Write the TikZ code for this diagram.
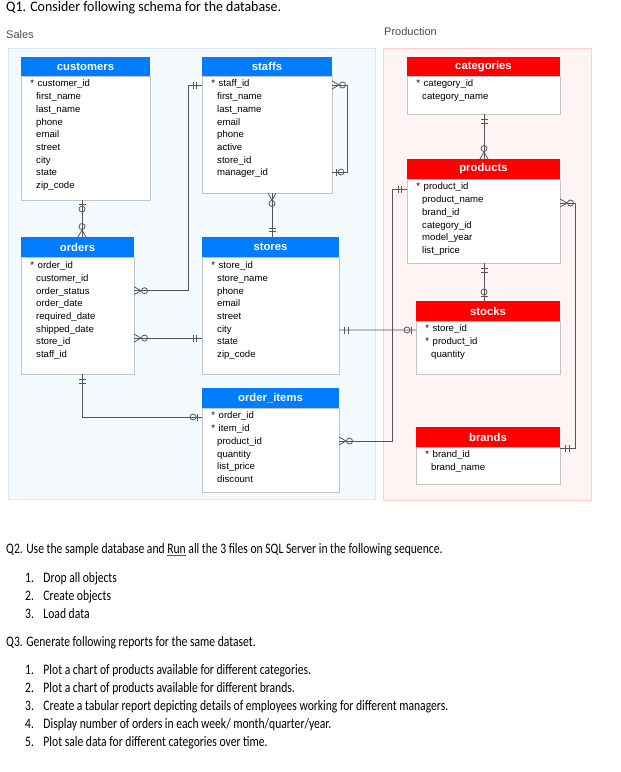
\documentclass[tikz,border=0pt]{standalone}
\usepackage{fontspec}
\setmainfont{Liberation Sans}
\newfontfamily\docfont[FakeStretch=0.80]{Carlito}
\newfontfamily\titlefont[FakeStretch=0.96]{Carlito}
\usetikzlibrary{positioning,calc}
\definecolor{hdblue}{RGB}{0,125,255}
\definecolor{hdred}{RGB}{255,0,0}
\definecolor{salesfill}{RGB}{245,250,255}
\definecolor{salesline}{RGB}{216,232,252}
\definecolor{prodfill}{RGB}{255,244,244}
\definecolor{prodline}{RGB}{255,206,206}
\definecolor{boxgray}{RGB}{196,196,196}
\definecolor{relgray}{RGB}{85,85,85}
\definecolor{linkblue}{RGB}{40,90,210}
\newcommand{\pk}{\makebox[0pt][r]{*\hspace{2.2pt}}\hspace{1.5pt}}
\newcommand{\linkword}[1]{\setbox0\hbox{#1}\rlap{\color{linkblue}\rule[-3pt]{\wd0}{0.9pt}}#1}
% table: name, corner, width, header options, title, body height, rows
\newcommand{\ertable}[7]{%
  \node[tblhead,#4,minimum width=#3] (#1-h) at (#2) {#5};
  \node[tblbody,minimum width=#3,minimum height=#6,below=0pt of #1-h] (#1) {};
  \node[tblrows] (#1-r) at ([xshift=15pt,yshift=-3.8pt]#1.north west) {#7};
}
\tikzset{
  tblhead/.style={anchor=north west,minimum height=20pt,inner sep=0,outer sep=0,
    text=white,font=\bfseries\fontsize{11.3}{13}\selectfont},
  tblbody/.style={draw=boxgray,fill=white,line width=0.7pt,inner sep=0,outer sep=0},
  tblrows/.style={anchor=north west,inner sep=0,align=left,font=\fontsize{9.6}{12.7}\selectfont},
  rel/.style={draw=relgray,line width=0.8pt},
  grplabel/.style={anchor=base west,inner sep=0,text=black!70,font=\fontsize{11}{13}\selectfont},
  doc/.style={anchor=base west,inner sep=0,font=\docfont\fontsize{14.5}{17}\selectfont},
  erone/.pic={\draw[rel] (5.5,-3.5) -- (5.5,3.5) (9,-3.5) -- (9,3.5);},
  erzeroone/.pic={\draw[rel] (4.5,-3.5) -- (4.5,3.5); \draw[rel] (9,0) circle (3pt);},
  ermany/.pic={\draw[rel] (0,-4) -- (7,0) -- (0,4); \draw[rel] (10.5,0) circle (3pt);},
}

\begin{document}
\begin{tikzpicture}[x=1pt,y=-1pt]
  \useasboundingbox (0,0) rectangle (621,772);
  % schema areas
  \draw[fill=salesfill,draw=salesline,line width=1pt] (8,48) rectangle (375,499);
  \draw[fill=prodfill,draw=prodline,line width=1pt] (383,48) rectangle (591,500);
  \node[grplabel] (sales-l) at (6,38.3) {Sales};
  \node[grplabel] (prod-l) at (384,35) {Production};

  % sales tables
  \ertable{customers}{21,57}{129pt}{fill=hdblue,minimum height=19pt}{customers}{124pt}{\pk customer\_id\\first\_name\\last\_name\\phone\\email\\street\\city\\state\\zip\_code}
  \ertable{staffs}{202,57}{130pt}{fill=hdblue,minimum height=19pt}{staffs}{117pt}{\pk staff\_id\\first\_name\\last\_name\\email\\phone\\active\\store\_id\\manager\_id}
  \ertable{orders}{21,237}{113pt}{fill=hdblue,minimum height=20.7pt}{orders}{116.3pt}{\pk order\_id\\customer\_id\\order\_status\\order\_date\\required\_date\\shipped\_date\\store\_id\\staff\_id}
  \ertable{stores}{202,237}{137pt}{fill=hdblue,minimum height=20.7pt}{stores}{116.3pt}{\pk store\_id\\store\_name\\phone\\email\\street\\city\\state\\zip\_code}
  \ertable{items}{202,388}{137pt}{fill=hdblue}{order\_items}{84pt}{\pk order\_id\\\pk item\_id\\product\_id\\quantity\\list\_price\\discount}
  % production tables
  \ertable{categories}{407,57}{153pt}{fill=hdred,minimum height=19pt}{categories}{38pt}{\pk category\_id\\category\_name}
  \ertable{products}{407,159}{153pt}{fill=hdred}{products}{84pt}{\pk product\_id\\product\_name\\brand\_id\\category\_id\\model\_year\\list\_price}
  \ertable{stocks}{416,301}{144pt}{fill=hdred}{stocks}{53pt}{\pk store\_id\\\pk product\_id\\quantity}
  \ertable{brands}{416,427}{144pt}{fill=hdred}{brands}{37pt}{\pk brand\_id\\brand\_name}

  % relationships
  \draw[rel] ([xshift=61pt]customers.south west) pic[rotate=-90]{erzeroone}
    -- ([xshift=61pt]orders-h.north west) pic[rotate=90]{ermany};
  \draw[rel] ([yshift=-9pt]staffs.north east) pic{ermany} -- ++(15,0)
    |- ([yshift=21pt]staffs.south east) pic{erzeroone};
  \draw[rel] ([xshift=70pt]staffs.south west) pic[rotate=-90]{ermany}
    -- ([xshift=70pt]stores-h.north west) pic[rotate=90]{erone};
  \draw[rel] ([yshift=-9.5pt]staffs.north west) pic[rotate=180]{erone} -- ++(-14,0)
    |- ([yshift=-33pt]orders.north east) pic{ermany};
  \draw[rel] ([yshift=36pt]orders.south east) pic{ermany}
    -- ([yshift=36pt]stores.south west) pic[rotate=180]{erone};
  \draw[rel] ([xshift=61pt]orders.south west) pic[rotate=-90]{erone}
    |- ([yshift=-9pt]items.north west) pic[rotate=180]{erzeroone};
  \draw[rel] ([yshift=44pt]stores.south east) pic{erone}
    -- ([yshift=-9pt]stocks.north west) pic[rotate=180]{erzeroone};
  \draw[rel] ([yshift=-33pt]items.north east) pic{ermany}
    -| ([xshift=-15pt,yshift=-10pt]products.north west)
    -- ([yshift=-10pt]products.north west) pic[rotate=180]{erone};
  \draw[rel] ([xshift=77pt]categories.south west) pic[rotate=-90]{erone}
    -- ([xshift=77pt]products-h.north west) pic[rotate=90]{ermany};
  \draw[rel] ([xshift=77pt]products.south west) pic[rotate=-90]{erone}
    -- ([xshift=68pt]stocks-h.north west) pic[rotate=90]{erzeroone};
  \draw[rel] ([yshift=-24pt]products.north east) pic{ermany} -- ++(15,0)
    |- ([yshift=-1.5pt]brands.north east) pic{erone};

  % questions
  \node[doc,font=\titlefont\fontsize{14.5}{17}\selectfont] (q1) at (6,11) {Q1. Consider following schema for the database.};
  \node[doc] (q2) at (6,553.3) {Q2. Use the sample database and \linkword{Run} all the 3 files on SQL Server in the following sequence.};
  \foreach \n/\txt in {1/{Drop all objects},2/{Create objects},3/{Load data}}
    \node[doc] (q2-\n) at (25,{564+18*\n}) {\makebox[18.3pt][l]{\n.}\txt};
  \node[doc] (q3) at (6,646.7) {Q3. Generate following reports for the same dataset.};
  \foreach \n/\txt in {1/{Plot a chart of products available for different categories.},
    2/{Plot a chart of products available for different brands.},
    3/{Create a tabular report depicting details of employees working for different managers.},
    4/{Display number of orders in each week/ month/quarter/year.},
    5/{Plot sale data for different categories over time.}}
    \node[doc] (q3-\n) at (25,{656.3+18*\n}) {\makebox[18.3pt][l]{\n.}\txt};
\end{tikzpicture}
\end{document}
